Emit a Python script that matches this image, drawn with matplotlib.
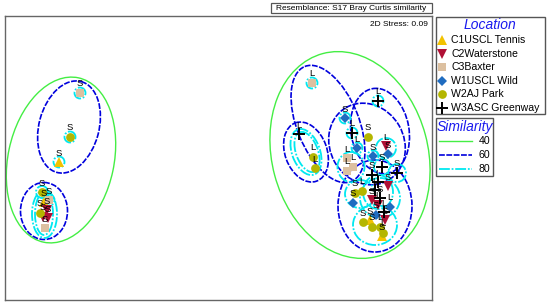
import matplotlib
matplotlib.use("Agg")
import matplotlib.pyplot as plt
from matplotlib.patches import Ellipse, Rectangle
from matplotlib.lines import Line2D

plt.rcParams["font.family"] = ["Liberation Sans", "DejaVu Sans"]

# nMDS ordination coordinates (arbitrary units, y grows downwards)
groups = ["C1USCL Tennis", "C2Waterstone", "C3Baxter", "W1USCL Wild", "W2AJ Park", "W3ASC Greenway"]

pt_group = [
    # left cluster
    "C3Baxter", "W2AJ Park", "C1USCL Tennis",
    "W2AJ Park", "C3Baxter", "C1USCL Tennis", "W2AJ Park", "C2Waterstone",
    "C2Waterstone", "C2Waterstone", "C3Baxter",
    # right cluster
    "C3Baxter", "W3ASC Greenway", "W1USCL Wild", "W3ASC Greenway", "W3ASC Greenway",
    "W2AJ Park", "C2Waterstone", "W1USCL Wild", "W1USCL Wild", "W1USCL Wild",
    "W2AJ Park", "W2AJ Park", "C3Baxter", "C3Baxter", "C3Baxter",
    "W3ASC Greenway", "W3ASC Greenway", "W3ASC Greenway", "W2AJ Park", "W2AJ Park",
    "W1USCL Wild", "W3ASC Greenway", "W3ASC Greenway", "C2Waterstone", "W3ASC Greenway",
    "W1USCL Wild", "C2Waterstone", "W1USCL Wild", "C2Waterstone", "W2AJ Park",
    "C1USCL Tennis", "W2AJ Park", "W2AJ Park", "W2AJ Park", "C1USCL Tennis",
    "C2Waterstone", "W3ASC Greenway",
]
pt_x = [
    80, 70, 59,
    42, 49, 44, 40, 47, 43, 48, 45,
    312, 378, 345, 299, 352,
    368, 386, 357, 373, 388,
    313, 315, 347, 353, 347,
    382, 397, 372, 355, 362,
    353, 375, 380, 378, 384,
    376, 385, 390, 372, 363,
    370, 372, 380, 383, 382,
    388, 378,
]
pt_y = [
    93, 137, 162,
    192, 200, 202, 213, 210, 217, 218, 228,
    83, 101, 118, 134, 133,
    137, 146, 148, 156, 154,
    157, 168, 158, 167, 171,
    167, 173, 175, 193, 191,
    203, 190, 198, 205, 212,
    215, 220, 207, 200, 222,
    220, 227, 227, 233, 236,
    186, 182,
]
pt_label = [
    "S", "S", "S",
    "S", "S", "S", "S", "S", "S", "S", "S",
    "L", "L", "S", "L", "L",
    "S", "L", "L", "S", "S",
    "L", "L", "L", "L", "L",
    "S", "S", "S", "S", "L",
    "S", "L", "S", "L", "L",
    "S", "S", "L", "S", "S",
    "S", "S", "L", "L", "S",
    "S", "L",
]

# similarity contours: centre x, centre y, width, height, angle
sim40 = [(61, 160, 106, 168, 12), (350, 155, 156, 210, -15)]
sim60 = [
    (69, 127, 60, 94, 15), (44, 211, 47, 57, 0),
    (328, 124, 62, 124, -22), (306, 152, 42, 62, -20),
    (380, 131, 58, 86, -10), (367, 144, 74, 84, -30),
    (375, 206, 74, 92, 0),
]
sim80 = [
    (80, 93, 11, 11, 0), (70, 137, 11, 11, 0), (59, 162, 11, 11, 0),
    (44.5, 214, 25, 48, 0), (44, 214, 18, 42, 0), (42, 192, 12, 12, 0), (49, 200, 11, 11, 0),
    (306, 152, 28, 48, -20), (307, 152, 22, 42, -20),
    (312, 83, 11, 11, 0), (378, 101, 11, 11, 0), (345, 118, 11, 11, 0),
    (352, 133, 11, 11, 0), (357, 148, 11, 11, 0), (386, 148, 20, 20, 0),
    (373, 156, 11, 11, 0), (351, 167, 27, 30, 0), (397, 173, 18, 18, 0),
    (382, 167, 16, 16, 0), (360, 194, 30, 28, 0), (380, 198, 40, 40, 0),
    (378, 192, 30, 34, 0), (375, 225, 44, 40, 0),
]
sim_levels = ["40", "60", "80"]
stress = 0.09

styles = {
    "C1USCL Tennis": dict(marker="^", color="#f2c200", ms=6.5),
    "C2Waterstone": dict(marker="v", color="#b01035", ms=6.5),
    "C3Baxter": dict(marker="s", color="#dcc0a0", ms=5.8),
    "W1USCL Wild": dict(marker="D", color="#1f6cc0", ms=5.2),
    "W2AJ Park": dict(marker="o", color="#b4b600", ms=6.3),
    "W3ASC Greenway": dict(marker="+", color="black", ms=8),
}
line_styles = {
    "40": dict(color="#44ee44", lw=1.0, ls="-"),
    "60": dict(color="#0000dd", lw=1.2, ls=(0, (3.5, 0.9))),
    "80": dict(color="#00e8f0", lw=1.3, ls=(0, (6, 1, 1, 1))),
}

fig = plt.figure(figsize=(5.5, 3.05), dpi=100)
W, H = 550, 305
ax = fig.add_axes([5 / W, 5 / H, 427 / W, 284 / H])
ax.set_xlim(5, 432)
ax.set_ylim(300, 16)
ax.set_xticks([])
ax.set_yticks([])
for s in ax.spines.values():
    s.set_color("#666666")
    s.set_linewidth(1.0)

for level, ells in zip(sim_levels, [sim40, sim60, sim80]):
    st = line_styles[level]
    for cx, cy, w, h, a in ells:
        ax.add_patch(Ellipse((cx, cy), w, h, angle=a, fill=False,
                             edgecolor=st["color"], lw=st["lw"], ls=st["ls"], zorder=2))

for g in groups:
    st = styles[g]
    xs = [x for x, gg in zip(pt_x, pt_group) if gg == g]
    ys = [y for y, gg in zip(pt_y, pt_group) if gg == g]
    mew = 1.4 if st["marker"] == "+" else 0
    ax.plot(xs, ys, ls="none", marker=st["marker"], color=st["color"],
            ms=st["ms"], mew=mew, zorder=3)

for x, y, lab in zip(pt_x, pt_y, pt_label):
    ax.text(x, y - 4.5, lab, fontsize=6.8, ha="center", va="bottom", zorder=4)

ax.text(428, 24, f"2D Stress: {stress:.2f}", fontsize=6, ha="right", va="center")

# overlay in pixel units for header and legend boxes
ov = fig.add_axes([0, 0, 1, 1], facecolor="none")
ov.set_xlim(0, W)
ov.set_ylim(H, 0)
ov.axis("off")

ov.add_patch(Rectangle((271, 3), 161, 9.5, fill=False, edgecolor="#555555", lw=0.9))
ov.text(351.5, 8, "Resemblance: S17 Bray Curtis similarity", fontsize=6,
        ha="center", va="center")

# Location legend
ov.add_patch(Rectangle((436, 17), 109, 97, fill=False, edgecolor="#555555", lw=1.0))
ov.text(490, 25, "Location", fontsize=10, style="italic", color="#1a1aee",
        ha="center", va="center")
for i, g in enumerate(groups):
    st = styles[g]
    yy = 40 + i * 13.6
    mew = 1.4 if st["marker"] == "+" else 0
    ov.add_line(Line2D([442], [yy], ls="none", marker=st["marker"], color=st["color"],
                       ms=st["ms"], mew=mew))
    ov.text(451, yy, g, fontsize=7.6, ha="left", va="center")

# Similarity legend
ov.add_patch(Rectangle((436, 118), 57, 58, fill=False, edgecolor="#555555", lw=1.0))
ov.text(465, 126.5, "Similarity", fontsize=10, style="italic", color="#1a1aee",
        ha="center", va="center")
for i, level in enumerate(sim_levels):
    st = line_styles[level]
    yy = 141 + i * 14
    ov.add_line(Line2D([439, 472], [yy, yy], color=st["color"], lw=st["lw"], ls=st["ls"]))
    ov.text(490, yy, level, fontsize=7.6, ha="right", va="center")

fig.savefig("out.png", dpi=100)
